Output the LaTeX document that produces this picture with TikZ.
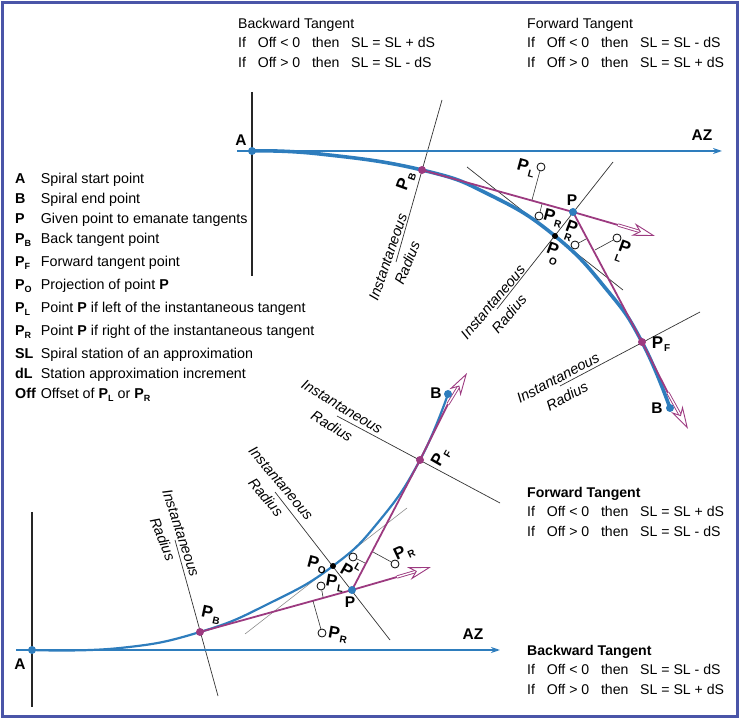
\documentclass[tikz,border=0pt]{standalone}
\usepackage{fontspec}
\setmainfont{Liberation Sans}
\usepackage{xcolor}
\usetikzlibrary{arrows.meta, positioning, matrix, backgrounds}
\definecolor{framecol}{HTML}{4A55A8}
\definecolor{spiralcol}{HTML}{2E7DBD}
\definecolor{tancol}{HTML}{9C3A80}
\newcommand{\Pt}[1]{\textbf{P}\raisebox{-.4ex}{\kern1pt\fontsize{10}{10}\selectfont\textbf{#1}}}
\newcommand{\Ps}[1]{\textbf{P}\raisebox{-.5ex}{\fontsize{9}{9}\selectfont\textbf{#1}}}
\tikzset{
    bluedot/.style={circle,fill=spiralcol,inner sep=0pt,minimum size=8pt},
    magdot/.style={circle,fill=tancol,inner sep=0pt,minimum size=8pt},
    blackdot/.style={circle,fill=black,inner sep=0pt,minimum size=6pt},
    ptmark/.style={circle,draw=black,fill=white,line width=.8pt,inner sep=0pt,minimum size=8pt},
    leader/.style={draw=black!80,line width=.6pt},
    radline/.style={draw=black!80,line width=.7pt},
    tanline/.style={draw=tancol,line width=1.8pt},
    tanhead/.style={draw=tancol,line width=.9pt,double=white,double distance=1.4pt,
        -{Stealth[open,fill=white,length=23pt,width=13pt,inset=7pt]}},
    azline/.style={draw=spiralcol,line width=1.6pt,-{Stealth[length=9pt,width=6pt]}},
    radtext/.style={font=\itshape\fontsize{14.5}{14.5}\selectfont,inner sep=0pt},
    ptlabel/.style={font=\fontsize{17}{17}\selectfont,inner sep=0pt},
    ptsub/.style={font=\bfseries\fontsize{10}{10}\selectfont,inner sep=0pt,rotate=-20},
    ptname/.style={font=\bfseries\fontsize{15.5}{15.5}\selectfont,inner sep=0pt},
    ruletext/.style={font=\fontsize{14.1}{19.5}\selectfont,align=left,anchor=north west,inner sep=0pt},
}
\begin{document}
\begin{tikzpicture}[x=1pt,y=-1pt]
    \useasboundingbox (0,0) rectangle (740,719);
    \draw[framecol,line width=3pt] (2.5,2.5) rectangle (737,716);

    % upper spiral
    \node[bluedot] (topA) at (252,151) {};
    \node[magdot] (topPB) at (422,170) {};
    \node[magdot] (topPF) at (642,342) {};
    \node[bluedot] (topB) at (670,408) {};
    \node[bluedot] (topP) at (573,212) {};
    \node[blackdot] (topPO) at (555,236) {};
    \coordinate (topAin) at (237,151);
    \coordinate (topAZ) at (722,151);
    \coordinate (topVa) at (252,92);
    \coordinate (topVb) at (252,276);
    \coordinate (topBa) at (442,100);
    \coordinate (topBb) at (396,262);
    \coordinate (topOa) at (613,162);
    \coordinate (topOb) at (497,309);
    \coordinate (topTa) at (467,167);
    \coordinate (topTb) at (623,290);
    \coordinate (topFa) at (700,312);
    \coordinate (topFb) at (560,386);
    \coordinate (topHb) at (618,225);
    \coordinate (topTipb) at (655,236);
    \coordinate (topHf) at (668,393);
    \coordinate (topTipf) at (688,429);

    \begin{scope}[on background layer]
        \draw[line width=1.4pt,black!85] (topVa) -- (topVb);
        \draw[radline] (topBa) -- (topBb);
        \draw[radline] (topOa) -- (topOb);
        \draw[radline] (topTa) -- (topTb);
        \draw[radline] (topFa) -- (topFb);
        \draw[azline] (topAin) -- (topAZ);
        \draw[spiralcol,line width=3.6pt] plot[smooth,tension=.8] coordinates
            {(topA.center) (320,154) (topPB.center) (490,195) (topPO.center) (607,290) (topPF.center) (topB.center)};
        \draw[tanline] (topPB.center) -- (topP.center) -- (topHb);
        \draw[tanline] (topP.center) -- (topPF.center) -- (topHf);
        \draw[tanhead] (topHb) -- (topTipb);
        \draw[tanhead] (topHf) -- (topTipf);
    \end{scope}

    \node[ptname] (lblTopA) at (241,140) {A};
    \node[ptname] (lblTopAZ) at (702,135) {AZ};
    \node[ptname] (lblTopB) at (657,408) {B};
    \node[ptname] (lblTopP) at (572,200) {P};
    \node[ptlabel,rotate=70] (lblTopPB) at (406,181) {\Pt{B}};
    \node[ptlabel] (lblTopPF) at (661,344) {\Pt{F}};
    \node[ptlabel,rotate=-20] (lblTopPO) at (553,249) {\textbf{P}};
    \node[ptsub] (subTopPO) at (553,262) {O};

    % upper offset points
    \node[ptmark] (topLa) at (541,167) {};
    \coordinate (topLafoot) at (532,200);
    \draw[leader] (topLa) -- (topLafoot);
    \node[ptlabel,rotate=-15] (lblTopLa) at (526,168) {\Pt{L}};
    \node[ptmark] (topRa) at (539,216) {};
    \coordinate (topRafoot) at (542,204);
    \draw[leader] (topRa) -- (topRafoot);
    \node[ptlabel,rotate=-15] (lblTopRa) at (553,218) {\Pt{R}};
    \node[ptmark] (topRb) at (575,245) {};
    \coordinate (topRbfoot) at (586,239);
    \draw[leader] (topRb) -- (topRbfoot);
    \node[ptlabel,rotate=-20] (lblTopRb) at (572,227) {\textbf{P}};
    \node[ptsub] (subTopRb) at (568,238) {R};
    \node[ptmark] (topLb) at (617,238) {};
    \coordinate (topLbfoot) at (595,250);
    \draw[leader] (topLb) -- (topLbfoot);
    \node[ptlabel,rotate=-20] (lblTopLb) at (625,247) {\textbf{P}};
    \node[ptsub] (subTopLb) at (618,258) {L};

    \node[radtext,rotate=71] (radTopBa) at (388,257) {Instantaneous};
    \node[radtext,rotate=68] (radTopBb) at (407,263) {Radius};
    \node[radtext,rotate=50] (radTopOa) at (493,302) {Instantaneous};
    \node[radtext,rotate=50] (radTopOb) at (509,314) {Radius};
    \node[radtext,rotate=28] (radTopFa) at (558,378) {Instantaneous};
    \node[radtext,rotate=28] (radTopFb) at (567,396) {Radius};

    % lower spiral
    \node[bluedot] (lowA) at (32,650) {};
    \node[magdot] (lowPB) at (200,632) {};
    \node[magdot] (lowPF) at (420,460) {};
    \node[bluedot] (lowB) at (448,394) {};
    \node[bluedot] (lowP) at (352,590) {};
    \node[blackdot] (lowPO) at (333,566) {};
    \coordinate (lowAin) at (16,650);
    \coordinate (lowAZ) at (500,650);
    \coordinate (lowVa) at (32,512);
    \coordinate (lowVb) at (32,707);
    \coordinate (lowBa) at (175,540);
    \coordinate (lowBb) at (218,696);
    \coordinate (lowOa) at (275,492);
    \coordinate (lowOb) at (390,640);
    \coordinate (lowTa) at (245,634);
    \coordinate (lowTb) at (407,508);
    \coordinate (lowFa) at (337,416);
    \coordinate (lowFb) at (500,503);
    \coordinate (lowHb) at (397,577);
    \coordinate (lowTipb) at (431,567);
    \coordinate (lowHf) at (448,404);
    \coordinate (lowTipf) at (467,373);

    \begin{scope}[on background layer]
        \draw[line width=1.4pt,black!85] (lowVa) -- (lowVb);
        \draw[radline] (lowBa) -- (lowBb);
        \draw[radline] (lowOa) -- (lowOb);
        \draw[black!45,line width=.6pt] (lowTa) -- (lowTb);
        \draw[radline] (lowFa) -- (lowFb);
        \draw[azline] (lowAin) -- (lowAZ);
        \draw[spiralcol,line width=2.2pt] plot[smooth,tension=.8] coordinates
            {(lowA.center) (120,648) (lowPB.center) (270,603) (lowPO.center) (380,520) (lowPF.center) (lowB.center)};
        \draw[tanline] (lowPB.center) -- (lowP.center) -- (lowHb);
        \draw[tanline] (lowP.center) -- (lowPF.center) -- (lowHf);
        \draw[tanhead] (lowHb) -- (lowTipb);
        \draw[tanhead] (lowHf) -- (lowTipf);
    \end{scope}

    \node[ptname] (lblLowA) at (20,664) {A};
    \node[ptname] (lblLowAZ) at (473,634) {AZ};
    \node[ptname] (lblLowB) at (436,393) {B};
    \node[ptname] (lblLowP) at (350,602) {P};
    \node[ptlabel,rotate=-12] (lblLowPB) at (211,615) {\Pt{B}};
    \node[ptlabel,rotate=60] (lblLowPF) at (441,457) {\Pt{F}};
    \node[ptlabel,rotate=-15] (lblLowPO) at (317,565) {\Pt{O}};

    % lower offset points
    \node[ptmark] (lowLa) at (321,586) {};
    \coordinate (lowLafoot) at (323,597);
    \draw[leader] (lowLa) -- (lowLafoot);
    \node[ptlabel,rotate=-10] (lblLowLa) at (335,583) {\Pt{L}};
    \node[ptmark] (lowLb) at (353,557) {};
    \coordinate (lowLbfoot) at (365,563);
    \draw[leader] (lowLb) -- (lowLbfoot);
    \node[ptlabel,rotate=-30] (lblLowLb) at (347,570) {\textbf{P}};
    \node[ptsub,rotate=-10] (subLowLb) at (358,567) {L};
    \node[ptmark] (lowRa) at (395,564) {};
    \coordinate (lowRafoot) at (373,552);
    \draw[leader] (lowRa) -- (lowRafoot);
    \node[ptlabel,rotate=25] (lblLowRa) at (404,553) {\Pt{R}};
    \node[ptmark] (lowRb) at (322,633) {};
    \coordinate (lowRbfoot) at (313,601);
    \draw[leader] (lowRb) -- (lowRbfoot);
    \node[ptlabel,rotate=-10] (lblLowRb) at (338,635) {\Pt{R}};

    \node[radtext,rotate=-72] (radLowBa) at (181,533) {Instantaneous};
    \node[radtext,rotate=-68] (radLowBb) at (163,539) {Radius};
    \node[radtext,rotate=-50] (radLowOa) at (281,483) {Instantaneous};
    \node[radtext,rotate=-50] (radLowOb) at (266,497) {Radius};
    \node[radtext,rotate=-31] (radLowFa) at (342,407) {Instantaneous};
    \node[radtext,rotate=-31] (radLowFb) at (332,426) {Radius};

    % legend
    \matrix (legend) [matrix of nodes,anchor=north west,inner sep=0pt,column sep=5pt,
        nodes={font=\fontsize{14.3}{14.3}\selectfont,anchor=base west,inner sep=0pt,text height=13pt,text depth=7pt}]
        at (15,170)
    {
        \textbf{A}   & Spiral start point \\
        \textbf{B}   & Spiral end point \\
        \textbf{P}   & Given point to emanate tangents \\
        \Ps{B}       & Back tangent point \\[3pt]
        \Ps{F}       & Forward tangent point \\[3pt]
        \Ps{O}       & Projection of point \textbf{P} \\[3pt]
        \Ps{L}       & Point \textbf{P} if left of the instantaneous tangent \\[3pt]
        \Ps{R}       & Point \textbf{P} if right of the instantaneous tangent \\[3pt]
        \textbf{SL}  & Spiral station of an approximation \\
        \textbf{dL}  & Station approximation increment \\
        \textbf{Off} & Offset of \Ps{L} or \Ps{R} \\
    };

    % rules
    \node[ruletext] (ruleTopB) at (238,18) {Backward Tangent\\If\ \ \ Off < 0\ \ \ then\ \ \ SL = SL + dS\\If\ \ \ Off > 0\ \ \ then\ \ \ SL = SL - dS};
    \node[ruletext] (ruleTopF) at (527,18) {Forward Tangent\\If\ \ \ Off < 0\ \ \ then\ \ \ SL = SL - dS\\If\ \ \ Off > 0\ \ \ then\ \ \ SL = SL + dS};
    \node[ruletext] (ruleLowF) at (527,487) {\textbf{Forward Tangent}\\If\ \ \ Off < 0\ \ \ then\ \ \ SL = SL + dS\\If\ \ \ Off > 0\ \ \ then\ \ \ SL = SL - dS};
    \node[ruletext] (ruleLowB) at (527,645) {\textbf{Backward Tangent}\\If\ \ \ Off < 0\ \ \ then\ \ \ SL = SL - dS\\If\ \ \ Off > 0\ \ \ then\ \ \ SL = SL + dS};
\end{tikzpicture}
\end{document}
